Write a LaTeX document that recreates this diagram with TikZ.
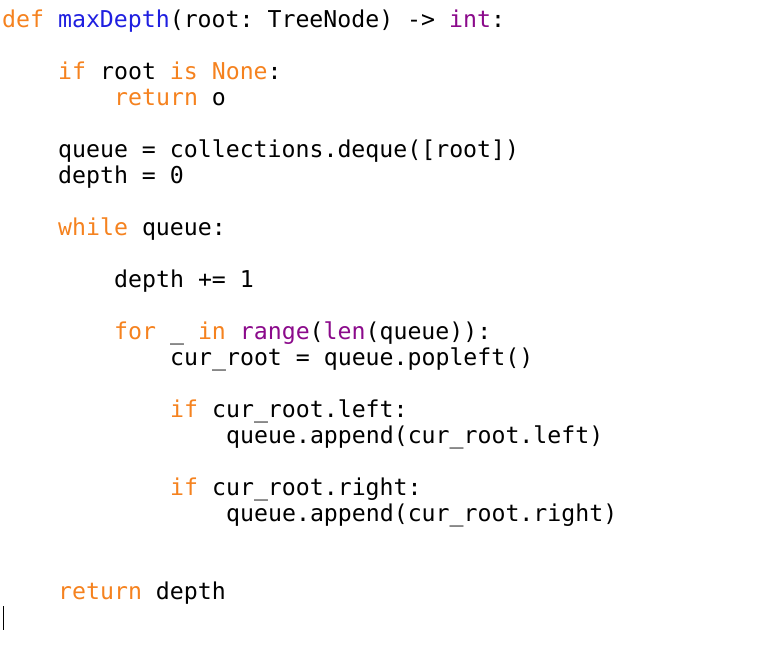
\documentclass[tikz,border=0pt]{standalone}
\usepackage{fontspec}
\setmonofont{DejaVu Sans Mono}
\definecolor{kw}{HTML}{F5821F}
\definecolor{fn}{HTML}{1F1FE0}
\definecolor{bi}{HTML}{8B0A8B}
\newcommand{\kwd}[1]{\textcolor{kw}{#1}}
\newcommand{\fnm}[1]{\textcolor{fn}{#1}}
\newcommand{\bin}[1]{\textcolor{bi}{#1}}
\tikzset{codeline/.style={anchor=base west,inner sep=0pt,font=\fontsize{23.2pt}{26pt}\ttfamily}}
\begin{document}
\begin{tikzpicture}[x=1pt,y=1pt]
\useasboundingbox (0,0) rectangle (768,-654);
\node[codeline] (l1) at (2,-27) {\kwd{def} \fnm{maxDepth}(root: TreeNode) -> \bin{int}:};
\node[codeline] (l2) at (58,-79) {\kwd{if} root \kwd{is} \kwd{None}:};
\node[codeline] (l3) at (114,-105) {\kwd{return} o};
\node[codeline] (l4) at (58,-157) {queue = collections.deque([root])};
\node[codeline] (l5) at (58,-183) {depth = 0};
\node[codeline] (l6) at (58,-235) {\kwd{while} queue:};
\node[codeline] (l7) at (114,-287) {depth += 1};
\node[codeline] (l8) at (114,-339) {\kwd{for} \_ \kwd{in} \bin{range}(\bin{len}(queue)):};
\node[codeline] (l9) at (170,-365) {cur\_root = queue.popleft()};
\node[codeline] (l10) at (170,-417) {\kwd{if} cur\_root.left:};
\node[codeline] (l11) at (226,-443) {queue.append(cur\_root.left)};
\node[codeline] (l12) at (170,-495) {\kwd{if} cur\_root.right:};
\node[codeline] (l13) at (226,-521) {queue.append(cur\_root.right)};
\node[codeline] (l14) at (58,-599) {\kwd{return} depth};
\coordinate (c1) at (3.5,-606);
\coordinate (c2) at (3.5,-630);
\draw[line width=1.2pt] (c1) -- (c2);
\end{tikzpicture}
\end{document}
